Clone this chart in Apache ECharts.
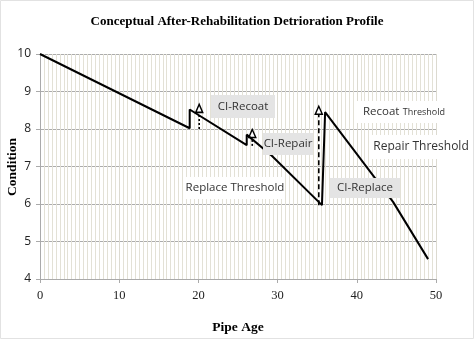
<!DOCTYPE html>
<html><head><meta charset="utf-8">
<script src="https://cdn.jsdelivr.net/npm/echarts@6/dist/echarts.min.js"></script>
<style>html,body{margin:0;padding:0;background:#fff}#c{width:474px;height:339px}</style>
</head><body><div id="c"></div>
<script>
// Main deterioration profile (pipe age, condition)
var profileAge =       [0,   18.9, 18.9, 26.1, 26.1, 29.3, 35.6, 36.0, 44.6, 49.0];
var profileCondition = [10,  8.02, 8.52, 7.57, 7.85, 7.28, 5.97, 8.45, 6.05, 4.53];
// Intervention arrows (age, from condition, to condition)
var arrowNames = ['CI-Recoat', 'CI-Repair', 'CI-Replace'];
var arrowAge =   [20.1, 26.8, 35.2];
var arrowFrom =  [8.0, 7.55, 5.97];
var arrowTo =    [8.55, 7.88, 8.5];
var xTicks = [0, 10, 20, 30, 40, 50];
var yTicks = [4, 5, 6, 7, 8, 9, 10];

var chart = echarts.init(document.getElementById('c'));
var profile = profileAge.map(function (a, i) { return [a, profileCondition[i]]; });
var arrowSeries = arrowAge.map(function (a, i) {
  return {
    type: 'line', name: arrowNames[i], silent: true, z: 3,
    data: [
      { value: [a, arrowFrom[i]], symbol: 'none' },
      { value: [a, arrowTo[i]], symbol: 'triangle', symbolSize: [7, 8] }
    ],
    lineStyle: { color: '#000', width: 1.6, type: i === 2 ? [5, 3] : [2, 2] },
    itemStyle: { color: '#fff', borderColor: '#000', borderWidth: 1.5 },
    showSymbol: true, animation: false
  };
});

var serif = '"Liberation Serif", "DejaVu Serif", serif';
var sans = '"Open Sans", "Liberation Sans", sans-serif';

function box(x, y, w, h, fill) {
  return { type: 'rect', shape: { x: x, y: y, width: w, height: h }, style: { fill: fill }, z: 50 };
}
function txt(x, y, t, size) {
  return { type: 'text', x: x, y: y, style: { text: t, font: size + 'px ' + sans, fill: '#333', align: 'center', verticalAlign: 'middle' }, z: 51 };
}

chart.setOption({
  animation: false,
  backgroundColor: '#fff',
  title: {
    text: 'Conceptual After-Rehabilitation Detrioration Profile',
    left: 'center', top: 10,
    textStyle: { fontFamily: serif, fontWeight: 'bold', fontSize: 13, color: '#000' }
  },
  grid: { left: 40, right: 38, top: 54, bottom: 60, containLabel: false, outerBoundsMode: 'none' },
  xAxis: {
    type: 'value', min: 0, max: 50, interval: 10,
    name: 'Pipe Age', nameLocation: 'middle', nameGap: 42,
    nameTextStyle: { fontFamily: serif, fontWeight: 'bold', fontSize: 13.5, color: '#000' },
    axisLine: { show: true, lineStyle: { color: '#aaa' } },
    axisTick: { show: true, length: 4, lineStyle: { color: '#aaa' } },
    axisLabel: { fontFamily: serif, fontSize: 12.5, color: '#222', margin: 10 },
    splitLine: { show: true, lineStyle: { color: '#dcdad0', width: 1 } },
    minorTick: { show: false, splitNumber: 20 },
    minorSplitLine: { show: true, lineStyle: { color: '#e3e1d6', width: 1 } }
  },
  yAxis: {
    type: 'value', min: 4, max: 10, interval: 1,
    axisLine: { show: true, lineStyle: { color: '#aaa' } },
    axisTick: { show: true, length: 4, lineStyle: { color: '#aaa' } },
    axisLabel: { fontFamily: sans, fontSize: 12, color: '#222', margin: 9 },
    splitLine: { show: true, lineStyle: { color: '#acacac', width: 1 } }
  },
  series: [{
    type: 'line', data: profile, symbol: 'none', z: 4,
    lineStyle: { color: '#000', width: 2 }
  }].concat(arrowSeries),
  graphic: [
    { type: 'rect', shape: { x: 0.5, y: 0.5, width: 473, height: 338 }, style: { fill: 'none', stroke: '#e2e2e2', lineWidth: 1 }, z: 0 },
    { type: 'text', x: 13, y: 167, rotation: Math.PI / 2, style: { text: 'Condition', font: 'bold 13.5px ' + serif, fill: '#000', align: 'center', verticalAlign: 'middle' }, z: 51 },
    box(211, 95, 64, 23, '#e4e4e4'), txt(243, 106.5, 'CI-Recoat', 11.5),
    box(263, 133, 50, 22, '#e4e4e4'), txt(288, 144, 'CI-Repair', 11.5),
    box(330, 178, 70, 20, '#e4e4e4'), txt(365, 188, 'CI-Replace', 11.5),
    box(186, 177, 98, 22, '#fff'), txt(235, 188, 'Replace Threshold', 11.5),
    box(356, 101, 84, 22, '#fff'),
    { type: 'text', x: 363, y: 112, style: { rich: { a: { font: '11.5px ' + sans, fill: '#333' }, b: { font: '9px ' + sans, fill: '#333' } }, text: '{a|Recoat} {b|Threshold}', verticalAlign: 'middle' }, z: 51 },
    box(372, 135, 98, 24, '#fff'), txt(421, 147, 'Repair Threshold', 12)
  ]
});
</script></body></html>
